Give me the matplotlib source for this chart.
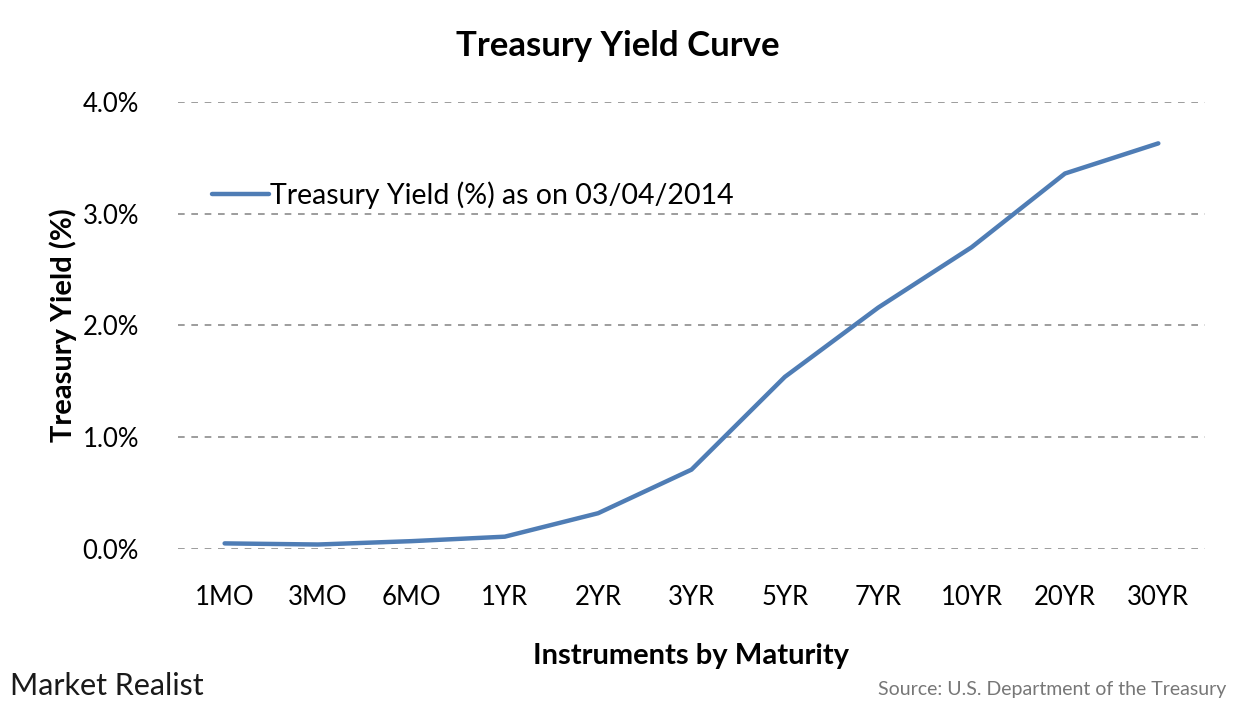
import matplotlib
matplotlib.use('Agg')
import matplotlib.pyplot as plt
from matplotlib.ticker import FuncFormatter

plt.rcParams['font.family'] = ['Lato', 'DejaVu Sans']

maturities = ['1MO', '3MO', '6MO', '1YR', '2YR', '3YR', '5YR', '7YR', '10YR', '20YR', '30YR']
yields = [0.05, 0.04, 0.07, 0.11, 0.32, 0.71, 1.54, 2.16, 2.70, 3.36, 3.63]
y_ticks = [0.0, 1.0, 2.0, 3.0, 4.0]

fig = plt.figure(figsize=(12.34, 7.04), dpi=100)
ax = fig.add_axes([0.1442, 0.2202, 0.8323, 0.6349])

x = list(range(len(maturities)))
ax.plot(x, yields, color='#4f7db5', linewidth=3.2, solid_capstyle='round',
        label='Treasury Yield (%) as on 03/04/2014')

ax.set_xlim(-0.5, len(maturities) - 0.5)
ax.set_ylim(0, 4.0)
ax.set_yticks(y_ticks)
ax.yaxis.set_major_formatter(FuncFormatter(lambda v, p: f'{v:.1f}%'))
ax.set_xticks(x)
ax.set_xticklabels(maturities)
ax.tick_params(axis='both', length=0, labelsize=18.5, colors='black')
ax.tick_params(axis='x', pad=26)
ax.tick_params(axis='y', pad=28)

ax.grid(axis='y', color='#8c8c8c', linestyle=(0, (4, 4)), linewidth=1.2)
ax.set_axisbelow(True)
for s in ax.spines.values():
    s.set_visible(False)

ax.set_ylabel('Treasury Yield (%)', fontsize=21, fontweight='bold', labelpad=4)
ax.set_xlabel('Instruments by Maturity', fontsize=21, fontweight='bold', labelpad=24)
fig.text(0.501, 0.935, 'Treasury Yield Curve', fontsize=25, fontweight='bold',
         ha='center', va='center')

leg = ax.legend(loc='upper left', bbox_to_anchor=(0.008, 0.88), frameon=False,
                fontsize=20.5, handlelength=2.0, handletextpad=0.05)

fig.text(0.008, 0.005, 'Market Realist', fontsize=22, color='#1a1a1a', ha='left', va='bottom')
fig.text(0.994, 0.008, 'Source: U.S. Department of the Treasury', fontsize=14,
         color='#777777', ha='right', va='bottom')

fig.savefig('out.png', dpi=100)
